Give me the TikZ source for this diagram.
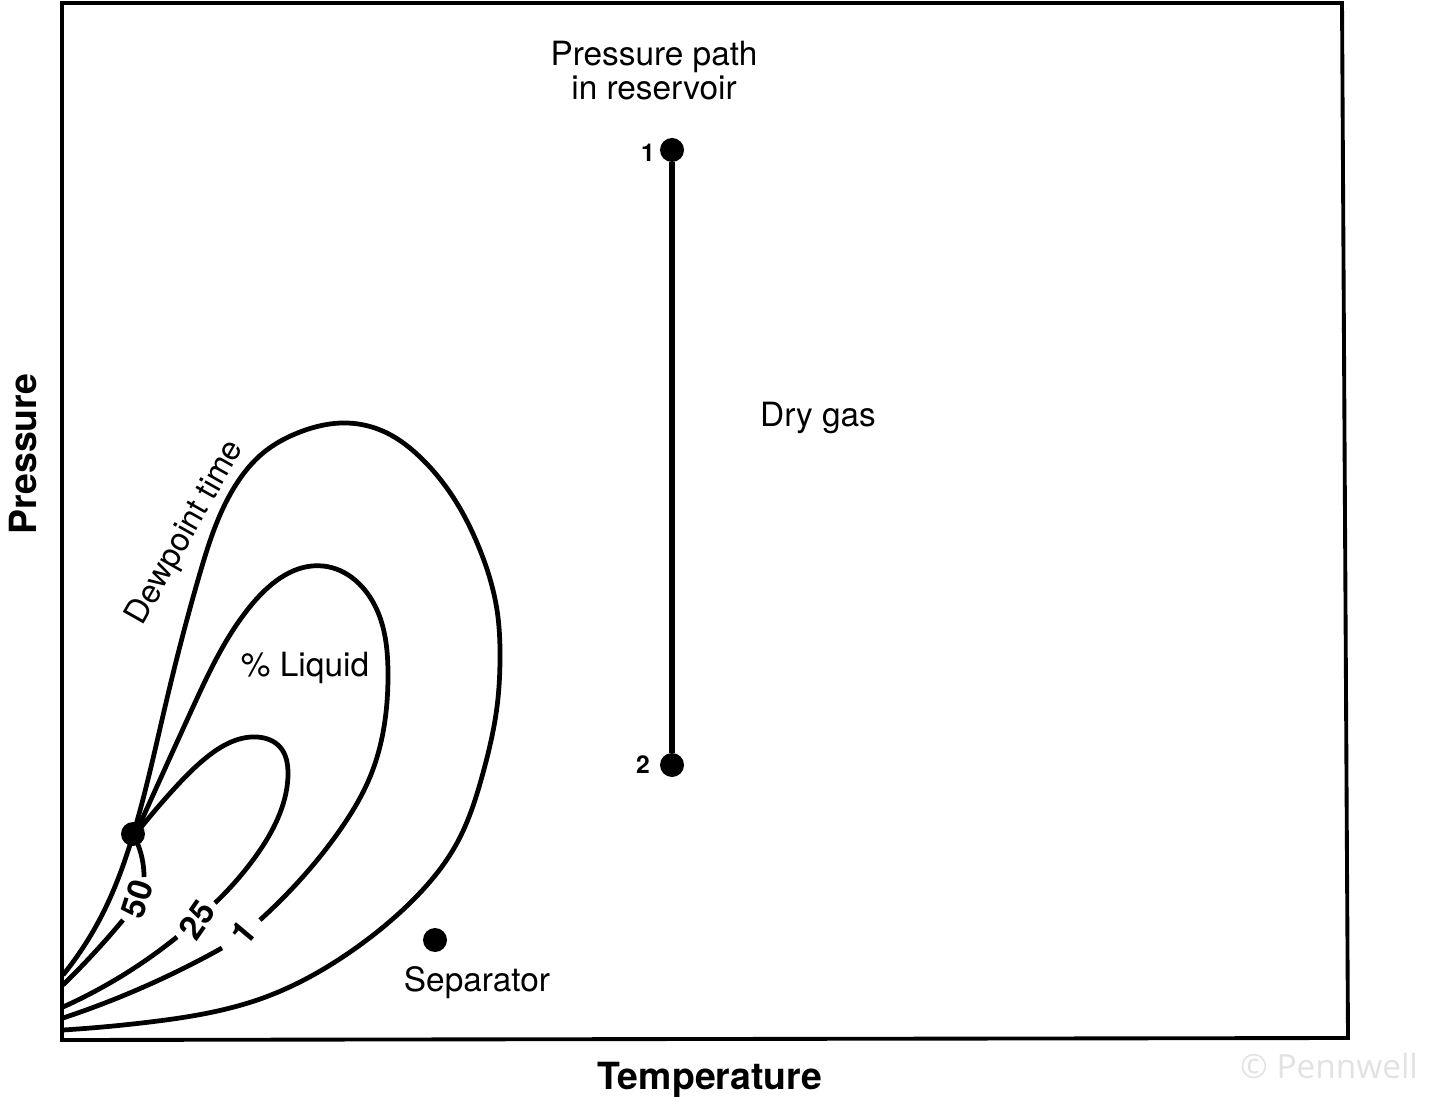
\documentclass[tikz,border=0pt]{standalone}
\usepackage{fontspec}
\setmainfont{TeX Gyre Heros}
\newfontfamily\markfont{Open Sans}
\usetikzlibrary{hobby}
\definecolor{markgray}{RGB}{226, 226, 226}
\tikzstyle{dot} = [circle, fill=black, inner sep=0pt, minimum size=0.48cm]
\tikzstyle{label} = [inner sep=0pt, align=center, font=\fontsize{19}{19.3}\selectfont]
\tikzstyle{axis} = [inner sep=0pt, font=\fontsize{21.3}{22}\selectfont\bfseries]
\tikzstyle{pct} = [inner sep=0pt, font=\fontsize{19}{20}\selectfont\bfseries]
\tikzstyle{curve} = [draw, line width=2.7pt, line join=round, use Hobby shortcut]
\tikzstyle{line} = [draw, line width=3.8pt]
\begin{document}
\begin{tikzpicture}[x=0.02cm, y=-0.02cm]
  \useasboundingbox (0,0) rectangle (1436,1097);
  % frame
  \draw [line width=2.2pt, line join=miter] (62,3) -- (1342,3) -- (1348,1038) -- (62,1040) -- cycle;
  % dewpoint curve
  \path [curve] (63,1030) .. (150,1022) .. (263,998) .. (353,950) .. (410,903) .. (457,843) .. (483,773) .. (497,707) .. (500,660) .. (497,610) .. (480,550) .. (453,497) .. (420,457) .. (387,433) .. (347,423) .. (300,432) .. (263,453) .. (237,483) .. (200,573) .. (165,707) .. (133,835) .. (103,913) .. (63,975);
  % 1 percent
  \path [curve] (63,1018) .. (120,997) .. (222,948);
  \path [curve] (260,920) .. (300,880) .. (340,830) .. (370,777) .. (388,675) .. (377,610) .. (323,566) .. (253,603) .. (193,707) .. (163,773) .. (135,835);
  % 25 percent
  \path [curve] (63,1007) .. (120,977) .. (177,937);
  \path [curve] (215,903) .. (253,860) .. (280,813) .. (288,773) .. (280,747) .. (257,737) .. (207,757) .. (173,790) .. (135,835);
  % 50 percent
  \path [curve] (63,985) .. (95,952) .. (123,920);
  \path [curve] (144,877) .. (142,858) .. (136,840);
  \node [dot] (dew_point) at (133,834) {};
  \node [dot] (separator_dot) at (435,940) {};
  \node [dot] (path_start) at (672,150) {};
  \node [dot] (path_end) at (672,765) {};
  \path [line] (path_start) -- (path_end);
  \node [pct, rotate=72] (pct_fifty) at (137,899) {50};
  \node [pct, rotate=55] (pct_twentyfive) at (197,920) {25};
  \node [pct, rotate=50] (pct_one) at (243,933) {1};
  \node [pct, font=\fontsize{14}{15}\selectfont\bfseries] (label_one) at (648,153) {1};
  \node [pct, font=\fontsize{14}{15}\selectfont\bfseries] (label_two) at (643,765) {2};
  \node [label] (path_title) at (654,71) {Pressure path\\in reservoir};
  \node [label] (dry_gas) at (818,418) {Dry gas};
  \node [label] (liquid_label) at (305,668) {\% Liquid};
  \node [label] (separator_label) at (477,983) {Separator};
  \node [label, rotate=60.5, font=\fontsize{18.5}{19}\selectfont] (dewpoint_label) at (186,533) {Dewpoint time};
  \node [axis] (temperature_label) at (710,1080) {Temperature};
  \node [axis, rotate=90] (pressure_label) at (23,454) {Pressure};
  \node [inner sep=0pt, text=markgray, font=\fontsize{19}{20}\selectfont\markfont] (mark_label) at (1329,1066) {© Pennwell};
\end{tikzpicture}
\end{document}
